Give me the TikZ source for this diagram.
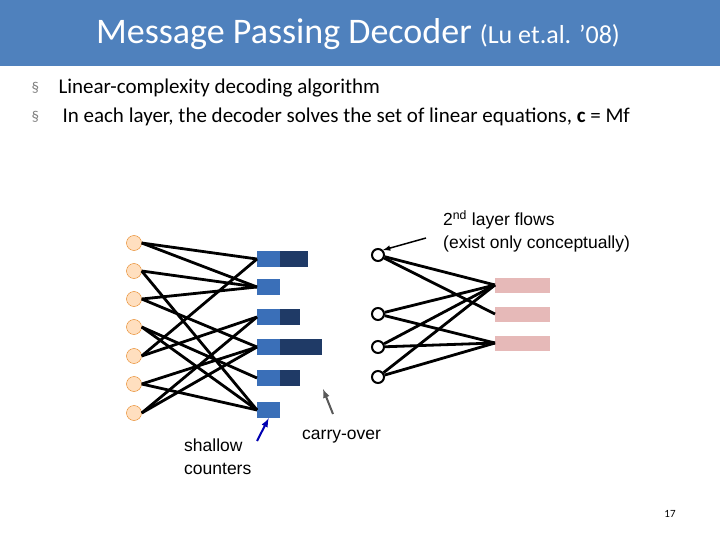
\documentclass[tikz,border=0pt]{standalone}
\usepackage{fontspec}
\setmainfont{Carlito}
\newfontfamily\arial{Liberation Sans}
\definecolor{tbar}{HTML}{4F81BD}
\definecolor{sqc}{HTML}{3A6FB8}
\definecolor{barc}{HTML}{1F3A66}
\definecolor{pinkc}{HTML}{E6B9B8}
\begin{document}
\begin{tikzpicture}[x=1pt,y=-1pt,
  lnode/.style={circle,draw=orange!60!brown,fill=orange!25,minimum size=15pt,inner sep=0pt},
  cnode/.style={circle,draw=black,line width=2pt,fill=white,minimum size=12pt,inner sep=0pt},
  sq/.style={draw=none,fill=sqc,minimum width=23pt,minimum height=16pt,inner sep=0pt,anchor=west},
  bar/.style={fill=barc,draw=none,inner sep=0pt,minimum height=16pt,anchor=west},
  pink/.style={fill=pinkc,draw=none,minimum width=55pt,minimum height=15pt,inner sep=0pt,anchor=west},
  ed/.style={line width=2.8pt},
  lbl/.style={font=\arial\fontsize{17.5}{23}\selectfont,align=left,inner sep=0pt,anchor=north west}]
\useasboundingbox (0,0) rectangle (720,540);
\fill[white] (0,0) rectangle (720,540);
\fill[tbar] (0,0) rectangle (720,66);
\node[text=white,font=\fontsize{36}{42}\selectfont] (title) at (358,34) {Message Passing Decoder {\fontsize{26}{30}\selectfont (Lu et.al. ’08)}};
\node[anchor=west,text=gray,font=\fontsize{15}{17}\selectfont] (b1) at (28,88) {§};
\node[anchor=west,text=gray,font=\fontsize{15}{17}\selectfont] (b2) at (28,117) {§};
\node[anchor=west,font=\fontsize{21}{24}\selectfont] (t1) at (55,88) {Linear-complexity decoding algorithm};
\node[anchor=west,font=\fontsize{21}{24}\selectfont] (t2) at (59,117) {In each layer, the decoder solves the set of linear equations, \textbf{c} = Mf};
\foreach \i/\y in {1/243,2/271,3/299,4/327,5/356,6/384,7/413}
  \node[lnode] (L\i) at (134,\y) {};
\foreach \i/\y in {1/259,2/287,3/317,4/347,5/378,6/410}
  \node[sq] (S\i) at (257,\y) {};
\node[bar,minimum width=28pt] (B1) at (280,259) {};
\node[bar,minimum width=20pt] (B3) at (280,317) {};
\node[bar,minimum width=42pt] (B4) at (280,347) {};
\node[bar,minimum width=20pt] (B5) at (280,378) {};
\foreach \a/\b in {1/1,1/2,2/2,2/6,3/2,3/4,4/5,4/6,5/1,5/3,6/4,6/6,7/3,7/4}
  \draw[ed] (L\a.east) -- (S\b.west);
\foreach \i/\y in {1/255,2/314,3/347,4/377}
  \node[cnode] (C\i) at (378,\y) {};
\foreach \i/\y in {1/285,2/314,3/343}
  \node[pink] (R\i) at (495,\y) {};
\foreach \a/\b in {1/1,1/2,2/1,2/3,3/1,3/3,4/1,4/3}
  \draw[ed] (C\a) -- (R\b.west);
\node[lbl] (n2) at (443,210) {2\textsuperscript{nd} layer flows\\(exist only conceptually)};
\coordinate (a2s) at (426,238);
\draw[-latex,line width=1.5pt] (a2s) -- (C1.north east);
\node[lbl] (sc) at (184,439) {shallow\\counters};
\coordinate (a1s) at (257,441);
\draw[-latex,line width=2pt,blue!70!black] (a1s) -- (S6.south);
\node[lbl] (co) at (302,430) {carry-over};
\coordinate (a3s) at (333,414);
\coordinate (a3e) at (323,389);
\draw[-latex,line width=2pt,gray!70!black] (a3s) -- (a3e);
\node[font=\fontsize{11}{13}\selectfont] (pg) at (670,514) {17};
\end{tikzpicture}
\end{document}
